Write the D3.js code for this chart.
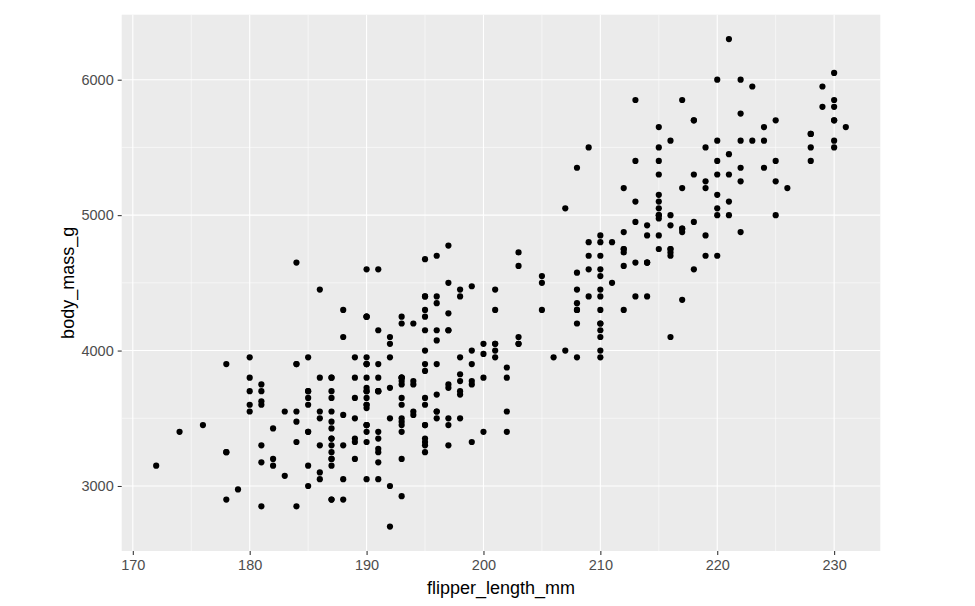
<!DOCTYPE html>
<html>
<head>
<meta charset="utf-8">
<script src="https://cdn.jsdelivr.net/npm/d3@7"></script>
<style>
  html, body { margin: 0; padding: 0; background: #ffffff; }
  svg { display: block; font-family: "Liberation Sans", Arial, sans-serif; }
</style>
</head>
<body>
<svg id="chart" width="975" height="606"></svg>
<script>
// ---- Data (palmer penguins: flipper_length_mm vs body_mass_g) ----
const adelieFlipper = [181,186,195,193,190,181,195,193,190,186,
  180,182,191,198,185,195,197,184,194,174,
  180,189,185,180,187,183,187,172,180,178,
  178,188,184,195,196,190,180,181,184,182,
  195,186,196,185,190,182,179,190,191,186,
  188,190,200,187,191,186,193,181,194,185,
  195,185,192,184,192,195,188,190,198,190,
  190,196,197,190,195,191,184,187,195,189,
  196,187,193,191,194,190,189,189,190,202,
  205,185,186,187,208,190,196,178,192,192,
  203,183,190,193,184,199,190,181,197,198,
  191,193,197,191,196,188,199,189,189,187,
  198,176,202,186,199,191,195,191,210,190,
  197,193,199,187,190,191,200,185,193,193,
  187,188,190,192,185,190,184,195,193,187,201];
const adelieMass = [3750,3800,3250,3450,3650,3625,4675,3475,4250,3300,
  3700,3200,3800,4400,3700,3450,4500,3325,4200,3400,
  3600,3800,3950,3800,3800,3550,3200,3150,3950,3250,
  3900,3300,3900,3325,4150,3950,3550,3300,4650,3150,
  3900,3100,4400,3000,4600,3425,2975,3450,4150,3500,
  4300,3450,4050,2900,3700,3550,3800,2850,3750,3150,
  4400,3600,4050,2850,3950,3350,4100,3050,4450,3600,
  3900,3550,4150,3700,4250,3700,3900,3550,4000,3200,
  4700,3800,4200,3350,3550,3800,3500,3950,3600,3550,
  4300,3400,4450,3300,4300,3700,4350,2900,4100,3725,
  4725,3075,4250,2925,3550,3750,3900,3175,4775,3825,
  4600,3200,4275,3900,4075,2900,3775,3350,3325,3150,
  3500,3450,3875,3050,4000,3275,4300,3050,4000,3325,
  3500,3500,4475,3425,3900,3175,3975,3400,4250,3400,
  3475,3050,3725,3000,3650,4250,3475,3450,3750,3700,4000];

const gentooFlipper = [211,230,210,218,215,210,211,219,209,215,
  214,216,214,213,210,217,210,221,209,222,
  218,215,213,215,215,215,216,215,210,220,
  222,209,207,230,220,220,213,219,208,208,
  208,225,210,216,222,217,210,225,213,215,
  210,220,210,225,217,220,208,220,208,224,
  208,221,214,231,219,230,214,229,220,223,
  216,221,221,217,216,230,209,220,215,223,
  212,221,212,224,212,228,218,218,212,230,
  218,228,212,224,214,226,216,222,203,225,
  219,228,215,228,216,215,210,219,208,209,
  216,229,213,230,217,230,217,222,214,215,
  222,212,213];
const gentooMass = [4500,5700,4450,5700,5400,4550,4800,5200,4400,5150,
  4650,5550,4650,5850,4200,5850,4150,6300,4800,5350,
  5700,5000,4400,5050,5000,5100,4100,5650,4600,5550,
  5250,4700,5050,6050,5150,5400,4950,5250,4350,5350,
  3950,5700,4300,4750,5550,4900,4200,5400,5100,5300,
  4850,5300,4400,5000,4900,5050,4300,5000,4450,5550,
  4200,5300,4400,5650,4700,5700,4650,5800,4700,5550,
  4750,5000,5100,5200,4700,5800,4600,6000,4750,5950,
  4625,5450,4725,5350,4750,5600,4600,5300,4875,5550,
  4950,5400,4750,5650,4850,5200,4925,4875,4625,5250,
  4850,5600,4975,5500,4725,5500,4700,5500,4575,5500,
  5000,5950,4650,5500,4375,5850,4875,6000,4925,4850,
  5750,5200,5400];

const chinstrapFlipper = [192,196,193,188,197,198,178,197,195,198,
  193,194,185,201,190,201,197,181,190,195,
  181,191,187,193,195,197,200,200,191,205,
  187,201,187,203,195,199,195,210,192,205,
  210,187,196,196,196,201,190,212,187,198,
  199,201,193,203,187,197,191,203,202,194,
  206,189,195,207,202,193,210,198];
const chinstrapMass = [3500,3900,3650,3525,3725,3950,3250,3750,4150,3700,
  3800,3775,3700,4050,3575,4050,3300,3700,3450,4400,
  3600,3400,2900,3800,3300,4150,3400,3800,3700,4550,
  3200,4300,3350,4100,3600,3900,3850,4800,2700,4500,
  3950,3650,3550,3500,3675,4450,3400,4300,3250,3675,
  3325,3950,3600,4050,3350,3450,3250,4050,3800,3525,
  3950,3650,3650,4000,3400,3775,4100,3775];

const flipper_length_mm = adelieFlipper.concat(gentooFlipper, chinstrapFlipper);
const body_mass_g = adelieMass.concat(gentooMass, chinstrapMass);

const xTicks = [170, 180, 190, 200, 210, 220, 230];
const xMinor = [175, 185, 195, 205, 215, 225];
const yTicks = [3000, 4000, 5000, 6000];
const yMinor = [3500, 4500, 5500];
const xTitle = "flipper_length_mm";
const yTitle = "body_mass_g";

// ---- Layout ----
const panel = { left: 121.7, right: 880.3, top: 14.7, bottom: 551 };
const svg = d3.select("#chart");

const points = flipper_length_mm.map((f, i) => ({ x: f, y: body_mass_g[i] }));
const xExt = d3.extent(flipper_length_mm);
const yExt = d3.extent(body_mass_g);
const xPad = (xExt[1] - xExt[0]) * 0.05;
const yPad = (yExt[1] - yExt[0]) * 0.05;

const x = d3.scaleLinear().domain([xExt[0] - xPad, xExt[1] + xPad]).range([panel.left, panel.right]);
const y = d3.scaleLinear().domain([yExt[0] - yPad, yExt[1] + yPad]).range([panel.bottom, panel.top]);

// panel background
svg.append("rect")
  .attr("x", panel.left).attr("y", panel.top)
  .attr("width", panel.right - panel.left).attr("height", panel.bottom - panel.top)
  .attr("fill", "#EBEBEB");

const grid = svg.append("g");
// minor grid
grid.selectAll(".vminor").data(xMinor).join("line")
  .attr("x1", d => x(d)).attr("x2", d => x(d))
  .attr("y1", panel.top).attr("y2", panel.bottom)
  .attr("stroke", "#ffffff").attr("stroke-width", 0.55);
grid.selectAll(".hminor").data(yMinor).join("line")
  .attr("y1", d => y(d)).attr("y2", d => y(d))
  .attr("x1", panel.left).attr("x2", panel.right)
  .attr("stroke", "#ffffff").attr("stroke-width", 0.55);
// major grid
grid.selectAll(".vmajor").data(xTicks).join("line")
  .attr("x1", d => x(d)).attr("x2", d => x(d))
  .attr("y1", panel.top).attr("y2", panel.bottom)
  .attr("stroke", "#ffffff").attr("stroke-width", 1.1);
grid.selectAll(".hmajor").data(yTicks).join("line")
  .attr("y1", d => y(d)).attr("y2", d => y(d))
  .attr("x1", panel.left).attr("x2", panel.right)
  .attr("stroke", "#ffffff").attr("stroke-width", 1.1);

// axes
const xAxis = d3.axisBottom(x).tickValues(xTicks).tickSize(4).tickPadding(5).tickFormat(d3.format("d"));
const yAxis = d3.axisLeft(y).tickValues(yTicks).tickSize(4).tickPadding(4).tickFormat(d3.format("d"));

const gx = svg.append("g").attr("transform", `translate(0,${panel.bottom})`).call(xAxis);
const gy = svg.append("g").attr("transform", `translate(${panel.left},0)`).call(yAxis);
[gx, gy].forEach(g => {
  g.select(".domain").remove();
  g.selectAll(".tick line").attr("stroke", "#333333").attr("stroke-width", 1.07);
  g.selectAll(".tick text")
    .attr("fill", "#4D4D4D")
    .style("font-size", "14.5px")
    .style("font-family", "'Liberation Sans', Arial, sans-serif");
});

// points
svg.append("g").selectAll("circle").data(points).join("circle")
  .attr("cx", d => x(d.x))
  .attr("cy", d => y(d.y))
  .attr("r", 3.1)
  .attr("fill", "#000000");

// titles
svg.append("text")
  .attr("x", (panel.left + panel.right) / 2)
  .attr("y", 594)
  .attr("text-anchor", "middle")
  .attr("fill", "#000000")
  .style("font-size", "18px")
  .text(xTitle);

svg.append("text")
  .attr("transform", `translate(74,${(panel.top + panel.bottom) / 2}) rotate(-90)`)
  .attr("text-anchor", "middle")
  .attr("fill", "#000000")
  .style("font-size", "18px")
  .text(yTitle);
</script>
</body>
</html>
